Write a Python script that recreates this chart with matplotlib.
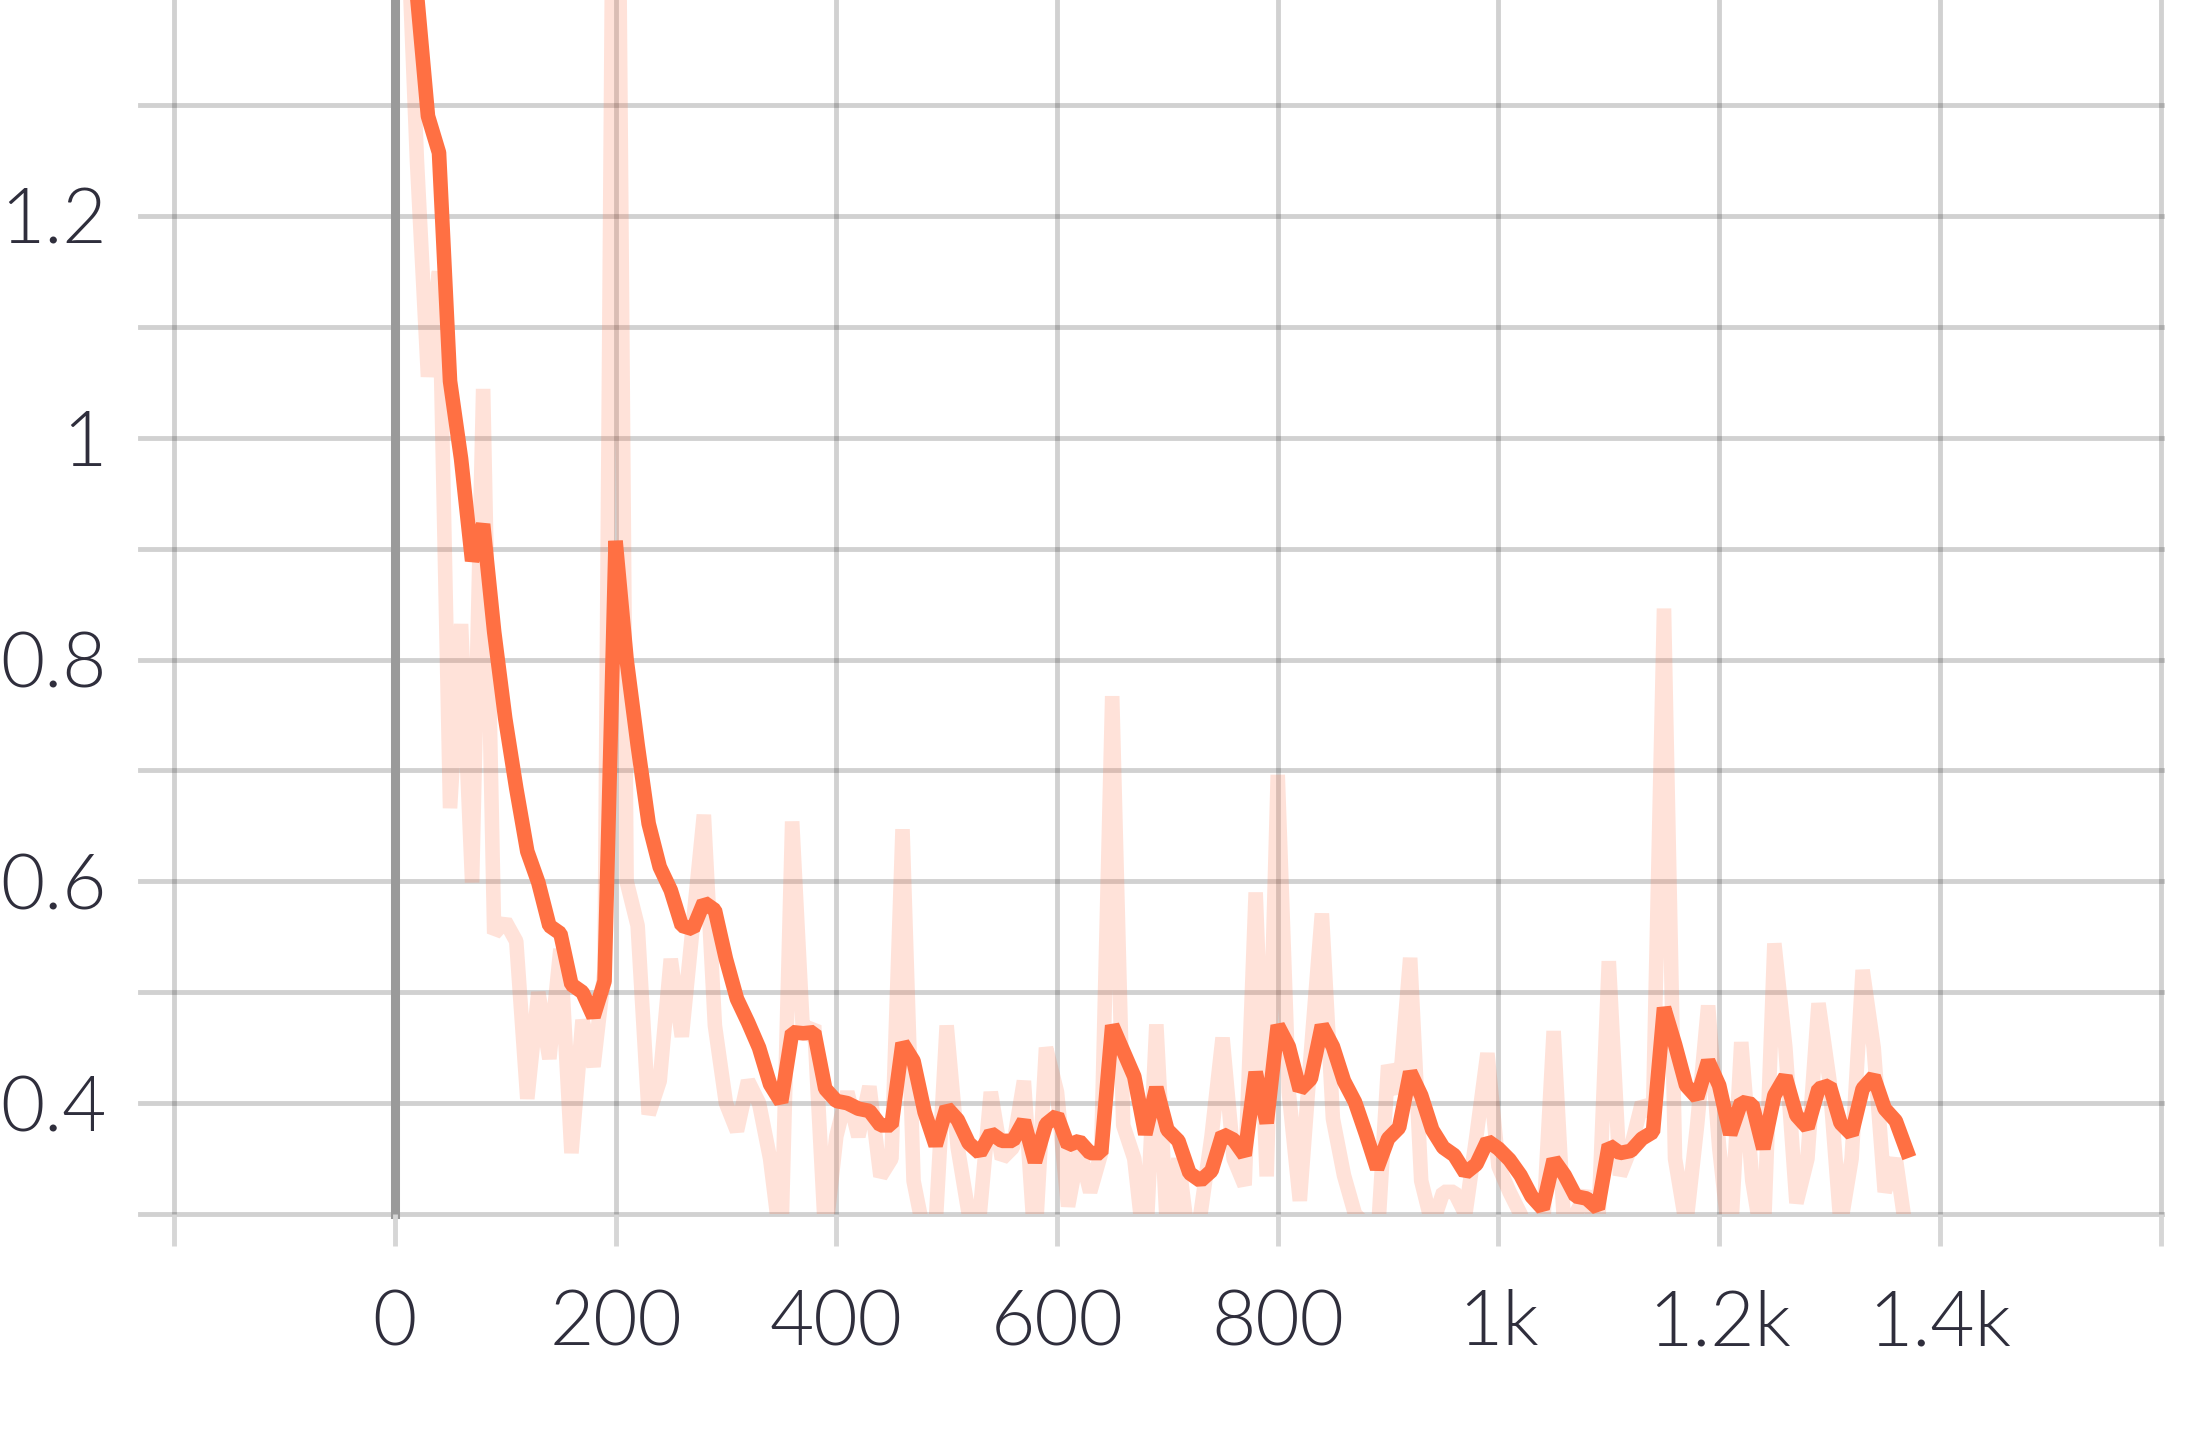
import matplotlib
matplotlib.use('Agg')
import matplotlib.pyplot as plt

# --- Data (one point every 10 steps) ---
steps = list(range(0, 1371, 10))

raw_loss = [
    2.10, 1.50, 1.25, 1.055, 1.15, 0.666, 0.832, 0.599, 1.044, 0.553,
    0.564, 0.546, 0.404, 0.50, 0.44, 0.539, 0.355, 0.475, 0.433, 0.52,
    1.86, 0.60, 0.56, 0.39, 0.42, 0.53, 0.46, 0.56, 0.66, 0.47,
    0.40, 0.375, 0.42, 0.40, 0.35, 0.27, 0.654, 0.46, 0.47, 0.28,
    0.37, 0.41, 0.37, 0.415, 0.334, 0.35, 0.647, 0.33, 0.28, 0.29,
    0.47, 0.36, 0.30, 0.30, 0.41, 0.35, 0.36, 0.42, 0.27, 0.45,
    0.41, 0.307, 0.36, 0.32, 0.355, 0.767, 0.38, 0.35, 0.26, 0.471,
    0.28, 0.35, 0.27, 0.30, 0.37, 0.459, 0.35, 0.326, 0.59, 0.334,
    0.696, 0.41, 0.312, 0.445, 0.571, 0.386, 0.335, 0.30, 0.29, 0.27,
    0.434, 0.409, 0.531, 0.33, 0.29, 0.32, 0.32, 0.30, 0.37, 0.445,
    0.343, 0.32, 0.30, 0.27, 0.28, 0.465, 0.28, 0.30, 0.32, 0.28,
    0.528, 0.335, 0.36, 0.40, 0.39, 0.846, 0.35, 0.29, 0.38, 0.488,
    0.36, 0.27, 0.455, 0.33, 0.27, 0.544, 0.45, 0.31, 0.35, 0.49,
    0.42, 0.29, 0.35, 0.52, 0.45, 0.32, 0.35, 0.28,
]

smoothed_loss = [
    2.10, 1.62, 1.40, 1.29, 1.257, 1.051, 0.981, 0.889, 0.922, 0.825,
    0.747, 0.684, 0.627, 0.599, 0.56, 0.553, 0.507, 0.50, 0.478, 0.51,
    0.907, 0.80, 0.723, 0.652, 0.613, 0.592, 0.56, 0.557, 0.581, 0.574,
    0.53, 0.494, 0.473, 0.45, 0.417, 0.401, 0.464, 0.463, 0.464, 0.413,
    0.402, 0.40, 0.395, 0.393, 0.38, 0.38, 0.454, 0.438, 0.392, 0.362,
    0.396, 0.385, 0.364, 0.355, 0.373, 0.366, 0.366, 0.384, 0.347, 0.381,
    0.389, 0.362, 0.366, 0.355, 0.355, 0.47, 0.447, 0.424, 0.372, 0.414,
    0.376, 0.366, 0.337, 0.33, 0.339, 0.372, 0.367, 0.353, 0.428, 0.382,
    0.47, 0.451, 0.412, 0.422, 0.47, 0.451, 0.42, 0.401, 0.372, 0.341,
    0.368, 0.378, 0.428, 0.407, 0.376, 0.36, 0.353, 0.337, 0.345, 0.366,
    0.359, 0.349, 0.335, 0.316, 0.305, 0.349, 0.335, 0.316, 0.314, 0.305,
    0.362, 0.355, 0.357, 0.368, 0.374, 0.486, 0.453, 0.416, 0.405, 0.438,
    0.416, 0.372, 0.401, 0.399, 0.359, 0.407, 0.424, 0.389, 0.378, 0.413,
    0.416, 0.382, 0.372, 0.413, 0.424, 0.395, 0.384, 0.357,
]

x_ticks = [-200, 0, 200, 400, 600, 800, 1000, 1200, 1400, 1600]
x_tick_labels = ['', '0', '200', '400', '600', '800', '1k', '1.2k', '1.4k', '']
y_ticks = [0.4, 0.6, 0.8, 1.0, 1.2]
y_tick_labels = ['0.4', '0.6', '0.8', '1', '1.2']
y_grid = [0.3, 0.4, 0.5, 0.6, 0.7, 0.8, 0.9, 1.0, 1.1, 1.2, 1.3]

LINE_COLOR = '#ff7043'
TEXT_COLOR = '#2f2e3c'


def create_plot(out_file='out.png'):
    plt.rcParams['font.family'] = ['Lato', 'DejaVu Sans']
    plt.rcParams['font.weight'] = 300

    fig = plt.figure(figsize=(22, 14.3), dpi=100)
    ax = fig.add_axes([0.0636, 0.151, 0.919, 0.849])

    # --- 1. Grid (drawn by hand so lines overlap like TensorBoard's) ---
    for y in y_grid:
        ax.axhline(y, color='black', alpha=0.18, lw=3.5, zorder=1, clip_on=False)
    for x in x_ticks:
        if x == 0:
            ax.axvline(x, color='#9a9a9a', lw=6.5, zorder=1.5, clip_on=False)
        else:
            ax.axvline(x, color='black', alpha=0.18, lw=3.5, zorder=1, clip_on=False)

    # --- 2. Raw and smoothed curves ---
    ax.plot(steps, raw_loss, color=LINE_COLOR, alpha=0.2, lw=10.5,
            solid_joinstyle='bevel', zorder=2)
    ax.plot(steps, smoothed_loss, color=LINE_COLOR, lw=10.5,
            solid_joinstyle='bevel', zorder=3)

    ax.set_xlim(-231, 1601)
    ax.set_ylim(0.3, 1.3947)

    # --- 3. Ticks and labels ---
    ax.set_xticks(x_ticks)
    ax.set_xticklabels(x_tick_labels)
    ax.set_yticks(y_ticks)
    ax.set_yticklabels(y_tick_labels)
    ax.tick_params(axis='x', length=23, width=3.5, color='#d6d6d6',
                   pad=31, labelsize=55, labelcolor=TEXT_COLOR)
    ax.tick_params(axis='y', length=0, pad=24, labelsize=55,
                   labelcolor=TEXT_COLOR)

    for spine in ax.spines.values():
        spine.set_visible(False)

    fig.savefig(out_file, dpi=100)
    plt.close(fig)


if __name__ == '__main__':
    create_plot()
